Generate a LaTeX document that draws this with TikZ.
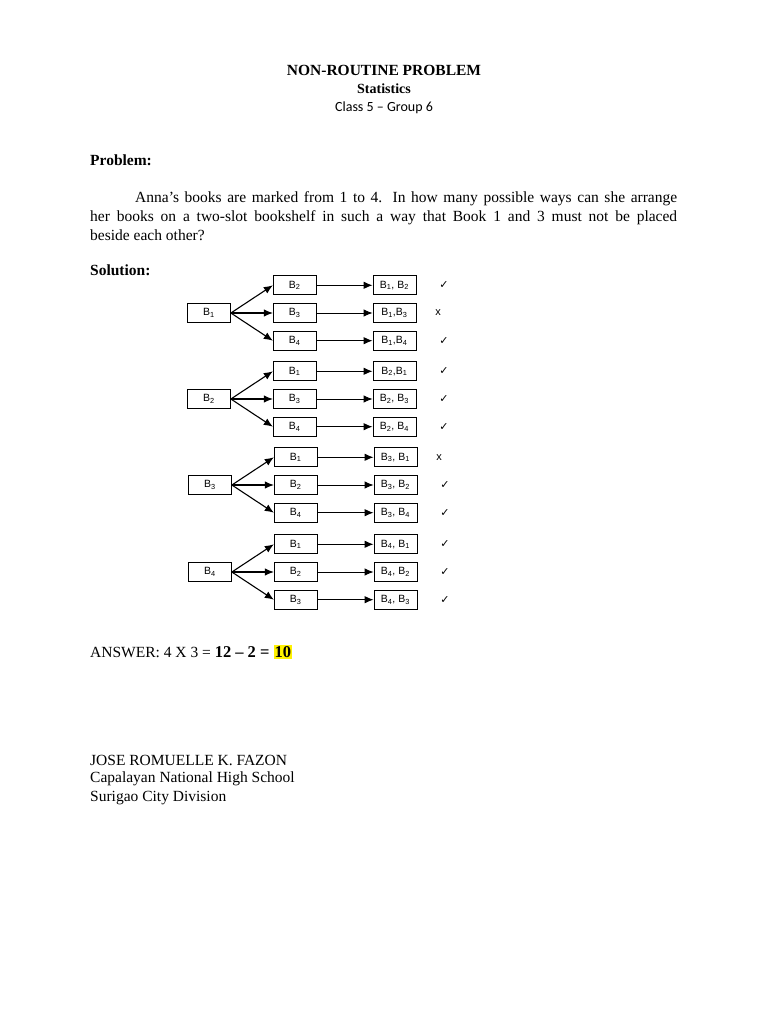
\documentclass[tikz,border=0pt]{standalone}
\usepackage{fontspec}
\setmainfont{Liberation Serif}
\newfontfamily\boxfont{Liberation Sans}
\newfontfamily\condfont{Carlito}
\newfontfamily\symfont{DejaVu Sans}
\usetikzlibrary{arrows.meta,positioning}

\newcommand{\bk}[1]{B\textsubscript{#1}}

\begin{document}
\begin{tikzpicture}[x=1pt,y=-1pt,node distance=42pt,>={Latex[length=9pt,width=7.5pt]}]

        \tikzstyle{book}=[draw,shape=rectangle,minimum width=43pt,minimum height=19pt,inner sep=0pt,line width=0.7pt,font=\boxfont\fontsize{10.5}{11}\selectfont]
        \tikzstyle{tick}=[inner sep=0pt,font=\symfont\fontsize{11}{12}\selectfont]
        \tikzstyle{cross}=[inner sep=0pt,font=\boxfont\fontsize{11}{12}\selectfont]
        \tikzstyle{txt}=[inner sep=0pt,anchor=west,font=\fontsize{15.5}{19}\selectfont]

        \useasboundingbox[fill=white] (0,0) rectangle (768,1024);

        % heading
        \node[inner sep=0pt,font=\bfseries\fontsize{15.5}{18}\selectfont] (T1) at (384,70) {NON-ROUTINE PROBLEM};
        \node[inner sep=0pt,font=\bfseries\fontsize{14}{16}\selectfont] (T2) at (384,89) {Statistics};
        \node[inner sep=0pt,font=\condfont\fontsize{14}{16}\selectfont] (T3) at (384,108) {Class 5 – Group 6};

        \node[txt,font=\bfseries\fontsize{15.5}{19}\selectfont] (P) at (90,160) {Problem:};
        \node[inner sep=0pt,anchor=north west,text width=587pt,align=justify,font=\fontsize{15.5}{19}\selectfont] (Q) at (90,191)
          {\hspace*{45pt}Anna's books are marked from 1 to 4. In how many possible ways can she arrange\linebreak her books on a two-slot bookshelf in such a way that Book 1 and 3 must not be placed\linebreak beside each other?};
        \node[txt,font=\bfseries\fontsize{15.5}{19}\selectfont] (S) at (90,270) {Solution:};

        % tree for book 1
        \node[book] (R1) at (209,313) {\bk1};
        \node[book] (R1a) [above right=8pt and 42pt of R1] {\bk2};
        \node[book] (R1b) [right=of R1] {\bk3};
        \node[book] (R1c) [below right=8pt and 42pt of R1] {\bk4};
        \node[book] (E1a) [right=56pt of R1a] {\bk1, \bk2};
        \node[book] (E1b) [right=56pt of R1b] {\bk1,\bk3};
        \node[book] (E1c) [right=56pt of R1c] {\bk1,\bk4};
        \node[tick] (K1a) [right=23pt of E1a] {✓};
        \node[cross] (K1b) [right=19pt of E1b] {x};
        \node[tick] (K1c) [right=23pt of E1c] {✓};

        % tree for book 2
        \node[book] (R2) at (209,399) {\bk2};
        \node[book] (R2a) [above right=8pt and 42pt of R2] {\bk1};
        \node[book] (R2b) [right=of R2] {\bk3};
        \node[book] (R2c) [below right=8pt and 42pt of R2] {\bk4};
        \node[book] (E2a) [right=56pt of R2a] {\bk2,\bk1};
        \node[book] (E2b) [right=56pt of R2b] {\bk2, \bk3};
        \node[book] (E2c) [right=56pt of R2c] {\bk2, \bk4};
        \node[tick] (K2a) [right=23pt of E2a] {✓};
        \node[tick] (K2b) [right=23pt of E2b] {✓};
        \node[tick] (K2c) [right=23pt of E2c] {✓};

        % tree for book 3
        \node[book] (R3) at (210,485) {\bk3};
        \node[book] (R3a) [above right=8pt and 42pt of R3] {\bk1};
        \node[book] (R3b) [right=of R3] {\bk2};
        \node[book] (R3c) [below right=8pt and 42pt of R3] {\bk4};
        \node[book] (E3a) [right=56pt of R3a] {\bk3, \bk1};
        \node[book] (E3b) [right=56pt of R3b] {\bk3, \bk2};
        \node[book] (E3c) [right=56pt of R3c] {\bk3, \bk4};
        \node[cross] (K3a) [right=19pt of E3a] {x};
        \node[tick] (K3b) [right=23pt of E3b] {✓};
        \node[tick] (K3c) [right=23pt of E3c] {✓};

        % tree for book 4
        \node[book] (R4) at (210,572) {\bk4};
        \node[book] (R4a) [above right=8pt and 42pt of R4] {\bk1};
        \node[book] (R4b) [right=of R4] {\bk2};
        \node[book] (R4c) [below right=8pt and 42pt of R4] {\bk3};
        \node[book] (E4a) [right=56pt of R4a] {\bk4, \bk1};
        \node[book] (E4b) [right=56pt of R4b] {\bk4, \bk2};
        \node[book] (E4c) [right=56pt of R4c] {\bk4, \bk3};
        \node[tick] (K4a) [right=23pt of E4a] {✓};
        \node[tick] (K4b) [right=23pt of E4b] {✓};
        \node[tick] (K4c) [right=23pt of E4c] {✓};

        \path [->,line width=1.1pt] (R1.east) edge (R1a.west) (R1.east) edge (R1b.west) (R1.east) edge (R1c.west);
        \path [->,line width=0.9pt] (R1a) edge (E1a) (R1b) edge (E1b) (R1c) edge (E1c);

        \path [->,line width=1.1pt] (R2.east) edge (R2a.west) (R2.east) edge (R2b.west) (R2.east) edge (R2c.west);
        \path [->,line width=0.9pt] (R2a) edge (E2a) (R2b) edge (E2b) (R2c) edge (E2c);

        \path [->,line width=1.1pt] (R3.east) edge (R3a.west) (R3.east) edge (R3b.west) (R3.east) edge (R3c.west);
        \path [->,line width=0.9pt] (R3a) edge (E3a) (R3b) edge (E3b) (R3c) edge (E3c);

        \path [->,line width=1.1pt] (R4.east) edge (R4a.west) (R4.east) edge (R4b.west) (R4.east) edge (R4c.west);
        \path [->,line width=0.9pt] (R4a) edge (E4a) (R4b) edge (E4b) (R4c) edge (E4c);

        % answer and author
        \node[txt] (A) at (90,652) {ANSWER: 4 X 3 = {\fontsize{16.5}{19}\selectfont\textbf{12 -- 2 =} {\setlength{\fboxsep}{1pt}\colorbox{yellow}{\textbf{10}}}}};
        \node[txt] (N1) at (90,760) {JOSE ROMUELLE K. FAZON};
        \node[txt] (N2) at (90,779) {Capalayan National High School};
        \node[txt] (N3) at (90,798) {Surigao City Division};
      \end{tikzpicture}
\end{document}
